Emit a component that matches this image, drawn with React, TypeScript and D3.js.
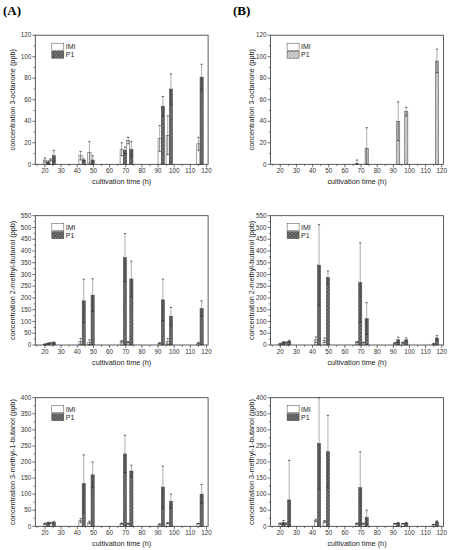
import React from 'react';
import * as d3 from 'd3';

const times = [21, 24.5, 43, 48.5, 68.5, 72.5, 92, 97, 116];
const xTicks = [20, 30, 40, 50, 60, 70, 80, 90, 100, 110, 120];
const seriesNames = ['IMI', 'P1'];

const a1Imi = [4, 4, 8, 11, 14, 22, 24, 27, 19];
const a1ImiErr = [2, 1, 4, 10, 6, 3, 12, 18, 6];
const a1P1 = [2, 8, 4, 4, 13, 14, 54, 70, 81];
const a1P1Err = [1, 5, 1, 4, 3, 7, 9, 14, 12];

const b1Imi = [0, 0, 0, 0, 1, 0, 0, 0, 0];
const b1ImiErr = [0, 0, 0, 0, 3, 0, 0, 0, 0];
const b1P1 = [0, 0, 0, 0, 0, 15, 40, 49, 96];
const b1P1Err = [0, 0, 0, 0, 0, 19, 18, 4, 11];

const a2Imi = [3, 8, 15, 12, 14, 12, 8, 15, 8];
const a2ImiErr = [2, 3, 12, 10, 5, 3, 2, 12, 3];
const a2P1 = [7, 10, 188, 212, 372, 281, 192, 122, 155];
const a2P1Err = [2, 3, 92, 70, 102, 76, 88, 38, 33];

const b2Imi = [5, 10, 22, 20, 12, 10, 8, 10, 5];
const b2ImiErr = [2, 3, 12, 10, 3, 2, 3, 3, 2];
const b2P1 = [12, 16, 340, 287, 265, 112, 22, 22, 30];
const b2P1Err = [3, 4, 172, 28, 170, 68, 11, 8, 10];

const a3Imi = [8, 10, 18, 12, 8, 8, 6, 10, 8];
const a3ImiErr = [2, 2, 6, 4, 2, 2, 2, 2, 1];
const a3P1 = [11, 12, 133, 160, 225, 172, 122, 78, 100];
const a3P1Err = [2, 3, 89, 40, 58, 18, 65, 22, 30];

const b3Imi = [8, 8, 18, 15, 8, 8, 8, 8, 5];
const b3ImiErr = [2, 2, 4, 3, 2, 2, 1, 1, 1];
const b3P1 = [12, 82, 258, 232, 120, 28, 10, 10, 14];
const b3P1Err = [6, 123, 142, 113, 112, 22, 2, 2, 3];

const yTitles = [
  'concentration 3-octanone (ppb)',
  'concentration 2-methyl-butanol (ppb)',
  'concentration 3-methyl-1-butanol (ppb)',
];
const yMaxes = [120, 550, 400];
const ySteps = [20, 50, 50];
const panelLetters = ['(A)', '(B)'];

const FONT = "'Liberation Sans', Arial, sans-serif";
const colRanges: [number, number][] = [[35.3, 208.1], [270.6, 443.4]];
const rowRanges: [number, number][] = [[164.3, 35.2], [345, 215.7], [526.3, 397.7]];
const yTitleX = [15, 254];

type PanelDef = {
  col: number; row: number;
  imi: number[]; imiErr: number[]; p1: number[]; p1Err: number[];
  light: boolean;
};

const panels: PanelDef[] = [
  { col: 0, row: 0, imi: a1Imi, imiErr: a1ImiErr, p1: a1P1, p1Err: a1P1Err, light: false },
  { col: 1, row: 0, imi: b1Imi, imiErr: b1ImiErr, p1: b1P1, p1Err: b1P1Err, light: true },
  { col: 0, row: 1, imi: a2Imi, imiErr: a2ImiErr, p1: a2P1, p1Err: a2P1Err, light: false },
  { col: 1, row: 1, imi: b2Imi, imiErr: b2ImiErr, p1: b2P1, p1Err: b2P1Err, light: false },
  { col: 0, row: 2, imi: a3Imi, imiErr: a3ImiErr, p1: a3P1, p1Err: a3P1Err, light: false },
  { col: 1, row: 2, imi: b3Imi, imiErr: b3ImiErr, p1: b3P1, p1Err: b3P1Err, light: false },
];

const BAR_W = 2; // in hours
const AXIS = '#333';

function Panel({ p }: { p: PanelDef }) {
  const x = d3.scaleLinear().domain([14, 121]).range(colRanges[p.col]);
  const yMax = yMaxes[p.row];
  const step = ySteps[p.row];
  const y = d3.scaleLinear().domain([0, yMax]).range(rowRanges[p.row]);
  const [x0, x1] = colRanges[p.col];
  const [yb, yt] = rowRanges[p.row];
  const yTicks = d3.range(0, yMax + 0.001, step);
  const yMinor = d3.range(step / 2, yMax, step);
  const xMinor = d3.range(15, 121, 10);
  const fillP1 = p.light ? 'url(#hatchLight)' : 'url(#hatchDark)';
  const cx = (x0 + x1) / 2;
  const cy = (yb + yt) / 2;

  const bar = (vals: number[], errs: number[], offset: number, fill: string, key: string) =>
    vals.map((v, i) => {
      if (v <= 0 && errs[i] <= 0) return null;
      const t = times[i] + offset;
      const xl = x(t - BAR_W / 2);
      const xr = x(t + BAR_W / 2);
      const xc = x(t);
      const lo = y(Math.max(0, v - errs[i]));
      const hi = y(Math.min(yMax, v + errs[i]));
      return (
        <g key={key + i}>
          <rect x={xl} y={y(v)} width={xr - xl} height={y(0) - y(v)} fill={fill} stroke="#444" strokeWidth={0.5} />
          {errs[i] > 0 && (
            <g>
              <line x1={xc} x2={xc} y1={y(v)} y2={hi} stroke="#777" strokeWidth={0.6} />
              <line x1={xc} x2={xc} y1={lo} y2={y(v)} stroke="#333" strokeWidth={0.6} />
              <line x1={xc - 1.1} x2={xc + 1.1} y1={hi} y2={hi} stroke="#222" strokeWidth={0.7} />
              <line x1={xc - 1.1} x2={xc + 1.1} y1={lo} y2={lo} stroke="#222" strokeWidth={0.7} />
            </g>
          )}
        </g>
      );
    });

  const lgX = x0 + 16.5;
  const lgY = yt + 8;

  return (
    <g fontFamily={FONT}>
      {bar(p.imi, p.imiErr, -1, '#fff', 'i')}
      {bar(p.p1, p.p1Err, 1, fillP1, 'p')}
      <rect x={x0} y={yt} width={x1 - x0} height={yb - yt} fill="none" stroke={AXIS} strokeWidth={0.8} />
      {xTicks.map((t) => (
        <g key={'xt' + t}>
          <line x1={x(t)} x2={x(t)} y1={yb} y2={yb + 3} stroke={AXIS} strokeWidth={0.7} />
          <text x={x(t)} y={yb + 9} fontSize={6.3} textAnchor="middle" fill="#333">{t}</text>
        </g>
      ))}
      {xMinor.map((t) => (
        <line key={'xm' + t} x1={x(t)} x2={x(t)} y1={yb} y2={yb + 1.8} stroke={AXIS} strokeWidth={0.6} />
      ))}
      {yTicks.map((t) => (
        <g key={'yt' + t}>
          <line x1={x0 - 3} x2={x0} y1={y(t)} y2={y(t)} stroke={AXIS} strokeWidth={0.7} />
          <text x={x0 - 4} y={y(t) + 2.2} fontSize={6.3} textAnchor="end" fill="#333">{t}</text>
        </g>
      ))}
      {yMinor.map((t) => (
        <line key={'ym' + t} x1={x0 - 1.8} x2={x0} y1={y(t)} y2={y(t)} stroke={AXIS} strokeWidth={0.6} />
      ))}
      <text x={cx} y={yb + 20} fontSize={7.3} textAnchor="middle" fill="#222">cultivation time (h)</text>
      <text transform={`translate(${yTitleX[p.col]},${cy}) rotate(-90)`} fontSize={7.3} textAnchor="middle" fill="#222">
        {yTitles[p.row]}
      </text>
      <rect x={lgX} y={lgY} width={12} height={7} fill="#fff" stroke="#444" strokeWidth={0.5} />
      <rect x={lgX} y={lgY + 8} width={12} height={7} fill={fillP1} stroke="#444" strokeWidth={0.5} />
      <text x={lgX + 14} y={lgY + 6} fontSize={7} fill="#222">{seriesNames[0]}</text>
      <text x={lgX + 14} y={lgY + 14} fontSize={7} fill="#222">{seriesNames[1]}</text>
    </g>
  );
}

export default function App() {
  return (
    <svg width={450} height={550} style={{ position: 'absolute', left: 0, top: 0, background: '#fff' }}>
      <defs>
        <pattern id="hatchDark" width={2.5} height={2.5} patternUnits="userSpaceOnUse" patternTransform="rotate(45)">
          <rect width={2.5} height={2.5} fill="#777" />
          <line x1={0} y1={0} x2={0} y2={2.5} stroke="#333" strokeWidth={1} />
          <line x1={0} y1={0} x2={2.5} y2={0} stroke="#444" strokeWidth={0.6} />
        </pattern>
        <pattern id="hatchLight" width={2.5} height={2.5} patternUnits="userSpaceOnUse" patternTransform="rotate(45)">
          <rect width={2.5} height={2.5} fill="#d4d4d4" />
          <line x1={0} y1={0} x2={0} y2={2.5} stroke="#888" strokeWidth={0.9} />
        </pattern>
      </defs>
      <rect width={450} height={550} fill="#fff" />
      <text x={3} y={15} fontSize={13} fontWeight="bold" fontFamily="'Liberation Serif', 'Times New Roman', serif">{panelLetters[0]}</text>
      <text x={233} y={15} fontSize={13} fontWeight="bold" fontFamily="'Liberation Serif', 'Times New Roman', serif">{panelLetters[1]}</text>
      {panels.map((p, i) => <Panel key={i} p={p} />)}
    </svg>
  );
}
